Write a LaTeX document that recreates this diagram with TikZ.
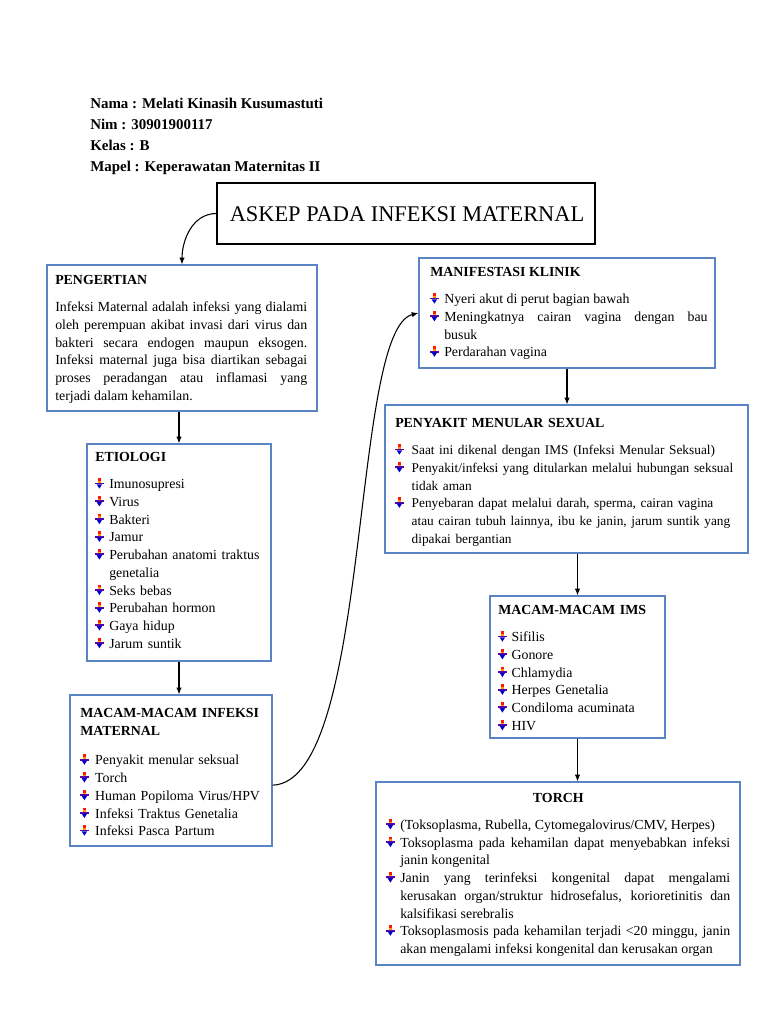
\documentclass[tikz,border=0pt]{standalone}
\usepackage{fontspec}
\setmainfont{Liberation Serif}
\usetikzlibrary{arrows.meta,fit,calc}
\definecolor{boxblue}{HTML}{5B84C4}
\newcommand{\bul}{\tikz[baseline=-0.3pt,x=1pt,y=1pt,line width=0pt]{%
  \fill[orange!85!yellow] (2.2,3.8) rectangle (4.0,7.6);
  \fill[red!80!orange] (2.2,5.6) rectangle (4.0,7.6);
  \fill[violet!70!blue] (0,3.0) rectangle (6.2,4.4);
  \fill[blue!80!black] (1.0,3.1) -- (5.2,3.1) -- (3.1,-0.2) -- cycle;}}
\newenvironment{blist}[1][10.5pt]{\begin{list}{\bul}{%
  \setlength\leftmargin{#1}\setlength\labelwidth{#1}\setlength\labelsep{0pt}%
  \setlength\itemsep{0pt}\setlength\parsep{0pt}\setlength\topsep{0pt}%
  \setlength\partopsep{0pt}\renewcommand\makelabel[1]{##1\hfil}}}{\end{list}}
\tikzset{
  box/.style={draw=boxblue,line width=0.9pt,inner sep=0pt},
  txt/.style={anchor=north west,inner sep=0pt,font=\fontsize{10.4pt}{13.3pt}\selectfont},
  arr/.style={-{Latex[length=5pt,width=4pt]},line width=0.8pt},
  hd/.style={font=\fontsize{11.2pt}{15.8pt}\selectfont\bfseries,anchor=north west,inner sep=0pt,align=left}
}
\newcommand{\hgap}{\par\vspace{7.2pt}}
\begin{document}
\begin{tikzpicture}[x=0.75pt,y=-0.75pt]
\useasboundingbox (0,0) rectangle (768,1024);
% header
\node[hd] (hdr) at (90,98) {Nama : Melati Kinasih Kusumastuti\\Nim : 30901900117\\Kelas : B\\Mapel : Keperawatan Maternitas II};
% title
\node[draw=black,line width=0.9pt,inner sep=0pt,fit={(217,183) (595,244)}] (title) {};
\node[font=\fontsize{16.8pt}{19pt}\selectfont] (titletxt) at (407,214) {ASKEP PADA INFEKSI MATERNAL};
% boxes
\node[box,fit={(47,265) (317,411)}] (peng) {};
\node[box,fit={(87,444) (271,661)}] (etio) {};
\node[box,fit={(70,695) (272,846)}] (macam) {};
\node[box,fit={(419,258) (715,368)}] (mani) {};
\node[box,fit={(385,405) (748,553)}] (pms) {};
\node[box,fit={(490,596) (665,738)}] (ims) {};
\node[box,fit={(376,782) (740,965)}] (torch) {};
% texts
\node[txt,text width=189pt,align=justify] (pengt) at (55,275) {{\bfseries PENGERTIAN}\hgap
Infeksi Maternal adalah infeksi yang dialami\linebreak oleh perempuan akibat invasi dari virus dan\linebreak bakteri secara endogen maupun eksogen.\linebreak Infeksi maternal juga bisa diartikan sebagai\linebreak proses peradangan atau inflamasi yang\linebreak terjadi dalam kehamilan.};
\node[txt,text width=132pt,align=left] (etiot) at (95,452) {{\bfseries ETIOLOGI}\hgap
\begin{blist}
\item Imunosupresi
\item Virus
\item Bakteri
\item Jamur
\item Perubahan anatomi traktus\\genetalia
\item Seks bebas
\item Perubahan hormon
\item Gaya hidup
\item Jarum suntik
\end{blist}};
\node[txt,text width=145pt,align=left] (macamt) at (80,708) {{\bfseries MACAM-MACAM INFEKSI\\MATERNAL}\par\vspace{9pt}
\begin{blist}[11.2pt]
\item Penyakit menular seksual
\item Torch
\item Human Popiloma Virus/HPV
\item Infeksi Traktus Genetalia
\item Infeksi Pasca Partum
\end{blist}};
\node[txt,text width=208pt,align=justify] (manit) at (430,267) {{\bfseries MANIFESTASI KLINIK}\hgap
\begin{blist}
\item Nyeri akut di perut bagian bawah
\item Meningkatnya cairan vagina dengan bau\linebreak busuk
\item Perdarahan vagina
\end{blist}};
\node[txt,text width=275pt,align=left] (pmst) at (395,418) {{\bfseries PENYAKIT MENULAR SEXUAL}\hgap
{\fontsize{10pt}{13.3pt}\selectfont
\begin{blist}[12.3pt]
\item Saat ini dikenal dengan IMS (Infeksi Menular Seksual)
\item Penyakit/infeksi yang ditularkan melalui hubungan seksual\\tidak aman
\item Penyebaran dapat melalui darah, sperma, cairan vagina\\atau cairan tubuh lainnya, ibu ke janin, jarum suntik yang\\dipakai bergantian
\end{blist}}};
\node[txt,text width=125pt,align=left] (imst) at (498,605) {{\bfseries MACAM-MACAM IMS}\hgap
\begin{blist}[10pt]
\item Sifilis
\item Gonore
\item Chlamydia
\item Herpes Genetalia
\item Condiloma acuminata
\item HIV
\end{blist}};
\node[txt,text width=258pt,align=justify] (torcht) at (386,793) {{\centering\bfseries TORCH\par}\vspace{7pt}
\begin{blist}
\item (Toksoplasma, Rubella, Cytomegalovirus/CMV, Herpes)
\item Toksoplasma pada kehamilan dapat menyebabkan infeksi\linebreak janin kongenital
\item Janin yang terinfeksi kongenital dapat mengalami\linebreak kerusakan organ/struktur hidrosefalus, korioretinitis dan\linebreak kalsifikasi serebralis
\item Toksoplasmosis pada kehamilan terjadi {<}20 minggu, janin\linebreak akan mengalami infeksi kongenital dan kerusakan organ
\end{blist}};
% connectors
\draw[arr] (title.west) to[out=180,in=90] (peng.north);
\draw[arr] (etio.north |- peng.south) -- (etio.north);
\draw[arr] (etio.south) -- (etio.south |- macam.north);
\draw[arr] ([yshift=-11pt]macam.east) .. controls (372,782) and (350,330) .. (mani.west);
\draw[arr] (mani.south) -- (mani.south |- pms.north);
\draw[arr] (ims.north |- pms.south) -- (ims.north);
\draw[arr] (ims.south) -- (ims.south |- torch.north);
\end{tikzpicture}
\end{document}
